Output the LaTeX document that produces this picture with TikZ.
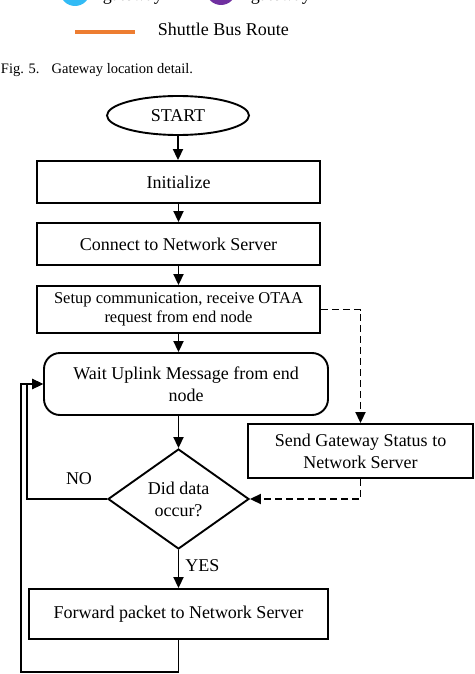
\documentclass[tikz,border=0pt]{standalone}
\usepackage{fontspec}
\setmainfont{Liberation Serif}
\usetikzlibrary{shapes.geometric,arrows.meta}
\definecolor{legcyan}{HTML}{33BBF5}
\definecolor{legpurple}{HTML}{7030A0}
\definecolor{legorange}{HTML}{ED7D31}
\begin{document}
\begin{tikzpicture}[x=1pt,y=-1pt,line width=1.9pt,
  txt/.style={font=\fontsize{18}{22}\selectfont},
  box/.style={draw,rectangle,inner sep=0pt,align=center,txt},
  arr/.style={-{Triangle[length=11pt,width=10pt]}},
  dashline/.style={dash pattern=on 7pt off 4pt}]
\clip (0,0) rectangle (474,674);
\fill[white] (0,0) rectangle (474,674);
% legend (cut off at top)
\fill[legcyan] (75,-9) circle (15);
\fill[legpurple] (221,-10) circle (15);
\node[txt,anchor=base west,inner sep=0pt] (lg1) at (102,0.5) {gateway};
\node[txt,anchor=base west,inner sep=0pt] (lg2) at (250,0.5) {gateway};
\draw[legorange,line width=4pt] (75,32) -- (135,32);
\node[txt,anchor=base west,inner sep=0pt] (lg3) at (157,36) {Shuttle Bus Route};
\node[font=\fontsize{14.5}{17}\selectfont,anchor=base west,inner sep=0pt] (cap) at (0,73.5) {Fig. 5.\hspace{12pt}Gateway location detail.};
% flowchart
\node[ellipse,draw,minimum width=142pt,minimum height=39pt,inner sep=0pt,txt] (start) at (178,115.5) {START};
\node[box,minimum width=283pt,minimum height=42pt] (init) at (178.5,182) {Initialize};
\node[box,minimum width=283pt,minimum height=42pt] (conn) at (178.5,244) {Connect to Network Server};
\node[box,minimum width=283pt,minimum height=47pt,font=\fontsize{16.5}{19}\selectfont] (setup) at (178.5,309.5) {Setup communication, receive OTAA\\request from end node};
\node[box,rounded corners=16pt,minimum width=284pt,minimum height=62pt] (wait) at (186,384) {Wait Uplink Message from end\\node};
\node[diamond,draw,minimum width=141pt,minimum height=100pt,inner sep=0pt,align=center,txt] (dec) at (178.5,499) {Did data\\occur?};
\node[box,minimum width=225pt,minimum height=54pt] (send) at (360.5,451) {Send Gateway Status to\\Network Server};
\node[box,minimum width=299pt,minimum height=50pt] (fwd) at (178.5,614) {Forward packet to Network Server};
\node[txt,inner sep=0pt] (no) at (79,479) {NO};
\coordinate (loop) at (21,672);
% connectors
\draw[arr] (start.south) -- (start.south |- init.north);
\draw[arr] (init.south) -- (conn.north);
\draw[arr] (conn.south) -- (setup.north);
\draw[arr] (setup.south) -- (setup.south |- wait.north);
\draw[arr] (dec.north |- wait.south) -- (dec.north);
\draw[arr] (dec.south) -- node[right,txt,pos=0.4,inner sep=6pt] (yes) {YES} (fwd.north);
\draw[arr] (dec.west) -- ++(-80,0) |- (wait.west);
\draw[arr] (fwd.south) -- (fwd.south |- loop) -- (loop) |- (wait.west);
\draw[arr,dashline] (setup.east) -- (setup.east -| send.north) -- (send.north);
\draw[arr,dashline] (send.south) |- (dec.east);
\end{tikzpicture}
\end{document}
